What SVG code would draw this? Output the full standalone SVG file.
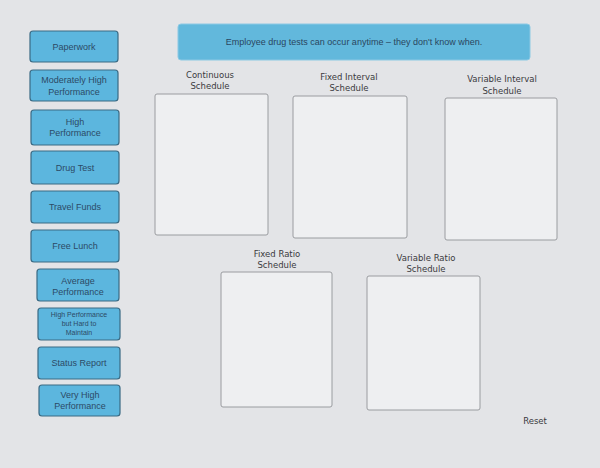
<svg xmlns="http://www.w3.org/2000/svg" width="600" height="468" viewBox="0 0 600 468">
<style>
.btn rect{fill:#5cb6de;stroke:#3a6a84;stroke-width:1.2}
.btn text{font-family:"Liberation Sans",Arial,sans-serif;font-size:9px;fill:#2c4a66;text-anchor:middle}
.drop rect{fill:#eeeff1;stroke:#9a9ca0;stroke-width:1}
.drop text{font-family:"DejaVu Sans",sans-serif;font-size:8.5px;fill:#3a3a40;text-anchor:middle}
</style>
<rect width="600" height="468" fill="#e3e4e7"/>
<g id="banner"><rect x="178" y="24" width="352" height="36" rx="3" fill="#62b8dc" stroke="#8cc9e4"/>
<text x="354" y="45" font-family="Liberation Sans,Arial,sans-serif" font-size="9" fill="#2a4660" text-anchor="middle">Employee drug tests can occur anytime – they don't know when.</text></g>
<g id="paperwork" class="btn"><rect x="30" y="31" width="88" height="31" rx="3"/><text x="74" y="50">Paperwork</text></g>
<g id="modhigh" class="btn"><rect x="30" y="70" width="88" height="31" rx="3"/><text x="74" y="83">Moderately High</text><text x="74" y="95">Performance</text></g>
<g id="high" class="btn"><rect x="31" y="110" width="88" height="35" rx="3"/><text x="75" y="125">High</text><text x="75" y="136">Performance</text></g>
<g id="drugtest" class="btn"><rect x="31" y="151" width="88" height="33" rx="3"/><text x="75" y="171">Drug Test</text></g>
<g id="travel" class="btn"><rect x="31" y="191" width="88" height="32" rx="3"/><text x="75" y="210">Travel Funds</text></g>
<g id="lunch" class="btn"><rect x="31" y="230" width="88" height="32" rx="3"/><text x="75" y="249">Free Lunch</text></g>
<g id="average" class="btn"><rect x="37" y="269" width="82" height="32" rx="3"/><text x="78" y="284">Average</text><text x="78" y="295">Performance</text></g>
<g id="hardmaintain" class="btn"><rect x="38" y="308" width="82" height="32" rx="3"/><text x="79" y="317" style="font-size:7px">High Performance</text><text x="79" y="326" style="font-size:7px">but Hard to</text><text x="79" y="335" style="font-size:7px">Maintain</text></g>
<g id="status" class="btn"><rect x="38" y="347" width="82" height="32" rx="3"/><text x="79" y="366">Status Report</text></g>
<g id="veryhigh" class="btn"><rect x="39" y="385" width="81" height="31" rx="3"/><text x="80" y="398">Very High</text><text x="80" y="409">Performance</text></g>
<g id="continuous" class="drop"><text x="210" y="78">Continuous</text><text x="210" y="89">Schedule</text><rect x="155" y="94" width="113" height="141" rx="2"/></g>
<g id="fixedinterval" class="drop"><text x="349" y="80">Fixed Interval</text><text x="349" y="91">Schedule</text><rect x="293" y="96" width="114" height="142" rx="2"/></g>
<g id="variableinterval" class="drop"><text x="502" y="82">Variable Interval</text><text x="502" y="94">Schedule</text><rect x="445" y="98" width="112" height="142" rx="2"/></g>
<g id="fixedratio" class="drop"><text x="277" y="257">Fixed Ratio</text><text x="277" y="268">Schedule</text><rect x="221" y="272" width="111" height="135" rx="2"/></g>
<g id="variableratio" class="drop"><text x="426" y="261">Variable Ratio</text><text x="426" y="272">Schedule</text><rect x="367" y="276" width="113" height="134" rx="2"/></g>
<text x="535" y="424" font-family="DejaVu Sans,sans-serif" font-size="8.5" fill="#3a3a40" text-anchor="middle">Reset</text>
<g id="connectors"/>
</svg>
